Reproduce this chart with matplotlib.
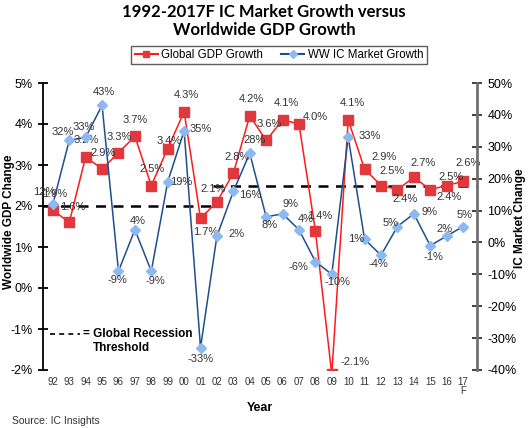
import matplotlib
matplotlib.use("Agg")
import matplotlib.pyplot as plt
from matplotlib.lines import Line2D

years = ['92', '93', '94', '95', '96', '97', '98', '99', '00', '01', '02', '03', '04',
         '05', '06', '07', '08', '09', '10', '11', '12', '13', '14', '15', '16', '17\nF']
gdp = [1.9, 1.6, 3.2, 2.9, 3.3, 3.7, 2.5, 3.4, 4.3, 1.7, 2.1, 2.8, 4.2,
       3.6, 4.1, 4.0, 1.4, -2.1, 4.1, 2.9, 2.5, 2.4, 2.7, 2.4, 2.5, 2.6]
ic = [12, 32, 33, 43, -9, 4, -9, 19, 35, -33, 2, 16, 28,
      8, 9, 4, -6, -10, 33, 1, -4, 5, 9, -1, 2, 5]
# recession threshold (GDP %) before / after the break
threshold_old = 2.0
threshold_new = 2.5
threshold_break = 9.75

# label offsets in pixels (dx, dy screen-down)
gdp_off = [(2, -16), (4, -15), (1, -17), (1, -16), (1, -16), (0, -16), (1, -17), (1, -8),
           (2, -17), (5, 14), (-4, -13), (4, -16), (2, -17), (3, -16), (4, -17), (16, -7),
           (4, -15), (23, -8), (4, -17), (19, -12), (11, -15), (8, 9), (9, -14), (19, 7),
           (4, -9), (5, -18)]
ic_off = [(-9, -12), (-7, -8), (-2, -10), (2, -13), (-1, 9), (3, -9), (4, 10), (14, 0),
          (17, -2), (0, 11), (20, -2), (17, 4), (5, -13), (3, 8), (8, -10), (7, -11),
          (-17, 5), (6, 8), (22, -1), (-8, 0), (-3, 9), (-7, -4), (16, -2), (3, 11),
          (-2, -7), (2, -12)]

plt.rcParams['font.family'] = ['Liberation Sans', 'DejaVu Sans']

W, H = 528, 428
fig = plt.figure(figsize=(W / 100, H / 100), dpi=100)
ax = fig.add_axes([43 / W, 1 - 370 / H, 434 / W, 287 / H])
ax2 = ax.twinx()

x = list(range(len(years)))

ax.set_xlim(-0.6, 25.85)
ax.set_ylim(-2, 5)
ax2.set_ylim(-40, 50)

# threshold lines
ax.plot([-0.6, threshold_break], [threshold_old, threshold_old], color='black',
        linestyle=(0, (4, 3)), linewidth=1.8, zorder=2)
ax.plot([threshold_break, 25.85], [threshold_new, threshold_new], color='black',
        linestyle=(0, (4, 3)), linewidth=1.8, zorder=2)

ax.plot(x, gdp, color='#FF1A1A', linewidth=1.1, marker='s', markersize=6.5,
        markerfacecolor='#E0383C', markeredgecolor='#E0383C', zorder=3, clip_on=True)
ax2.plot(x, ic, color='#1F4E8C', linewidth=1.1, marker='D', markersize=5,
         markerfacecolor='#8DB8F0', markeredgecolor='#8DB8F0', zorder=3)

for i, v in enumerate(gdp):
    dx, dy = gdp_off[i]
    ax.annotate(f'{v:.1f}%', (i, max(v, -2)), xytext=(dx, -dy), textcoords='offset pixels',
                ha='center', va='center', fontsize=8, color='#333333', annotation_clip=False)
for i, v in enumerate(ic):
    dx, dy = ic_off[i]
    ax2.annotate(f'{v}%', (i, v), xytext=(dx, -dy), textcoords='offset pixels',
                 ha='center', va='center', fontsize=8, color='#333333')

# axes styling
for s in ['top', 'bottom']:
    ax.spines[s].set_visible(False)
    ax2.spines[s].set_visible(False)
ax2.spines['left'].set_visible(False)
ax.spines['right'].set_visible(False)
ax.spines['left'].set_linewidth(1.3)
ax2.spines['right'].set_color('#707070')
ax2.spines['right'].set_linewidth(2)

ax.set_yticks(range(-2, 6))
ax.set_yticklabels([f'{t}%' for t in range(-2, 6)], fontsize=9)
ax.tick_params(axis='y', direction='inout', length=7, width=1.3, pad=4)
ax2.set_yticks(range(-40, 60, 10))
ax2.set_yticklabels([f'{t}%' for t in range(-40, 60, 10)], fontsize=9)
ax2.tick_params(axis='y', direction='inout', length=7, width=1.3, color='#333333', pad=4)

ax.set_xticks(x)
ax.set_xticklabels(years, fontsize=7, color='#333333', linespacing=0.9)
ax.tick_params(axis='x', length=0, pad=5)

ax.set_xlabel('Year', fontsize=9, fontweight='bold', labelpad=4)
fig.text(9 / W, 1 - 222 / H, 'Worldwide GDP Change', rotation=90, fontsize=8.5,
         fontweight='bold', ha='center', va='center')
fig.text(520 / W, 1 - 218 / H, 'IC Market Change', rotation=90, fontsize=8.5,
         fontweight='bold', ha='center', va='center')

fig.text(0.5, 0.99, '1992-2017F IC Market Growth versus\nWorldwide GDP Growth',
         ha='center', va='top', fontsize=12, fontweight='bold', family='Lato',
         linespacing=1.1)

handles = [Line2D([], [], color='#FF1A1A', marker='s', markersize=5,
                  markerfacecolor='#E0383C', markeredgecolor='#E0383C'),
           Line2D([], [], color='#1F4E8C', marker='D', markersize=4,
                  markerfacecolor='#8DB8F0', markeredgecolor='#8DB8F0')]
fig.legend(handles, ['Global GDP Growth', 'WW IC Market Growth'], loc='center',
           bbox_to_anchor=(279 / W, 1 - 55 / H), ncol=2, fontsize=8.3, frameon=True,
           fancybox=False, edgecolor='#333333', handlelength=2.0, columnspacing=1.6,
           borderpad=0.3, handletextpad=0.3)

# recession note
fig.add_artist(Line2D([50 / W, 80 / W], [1 - 334 / H, 1 - 334 / H], color='black',
                      linestyle=(0, (3, 2.5)), linewidth=1.2))
fig.text(83 / W, 1 - 334 / H, '= Global Recession', fontsize=8.5, fontweight='bold',
         ha='left', va='center')
fig.text(93 / W, 1 - 348 / H, 'Threshold', fontsize=8.5, fontweight='bold',
         ha='left', va='center')

fig.text(12 / W, 1 - 421 / H, 'Source: IC Insights', fontsize=7.5, color='#333333',
         ha='left', va='center')

fig.savefig('out.png', dpi=100)
